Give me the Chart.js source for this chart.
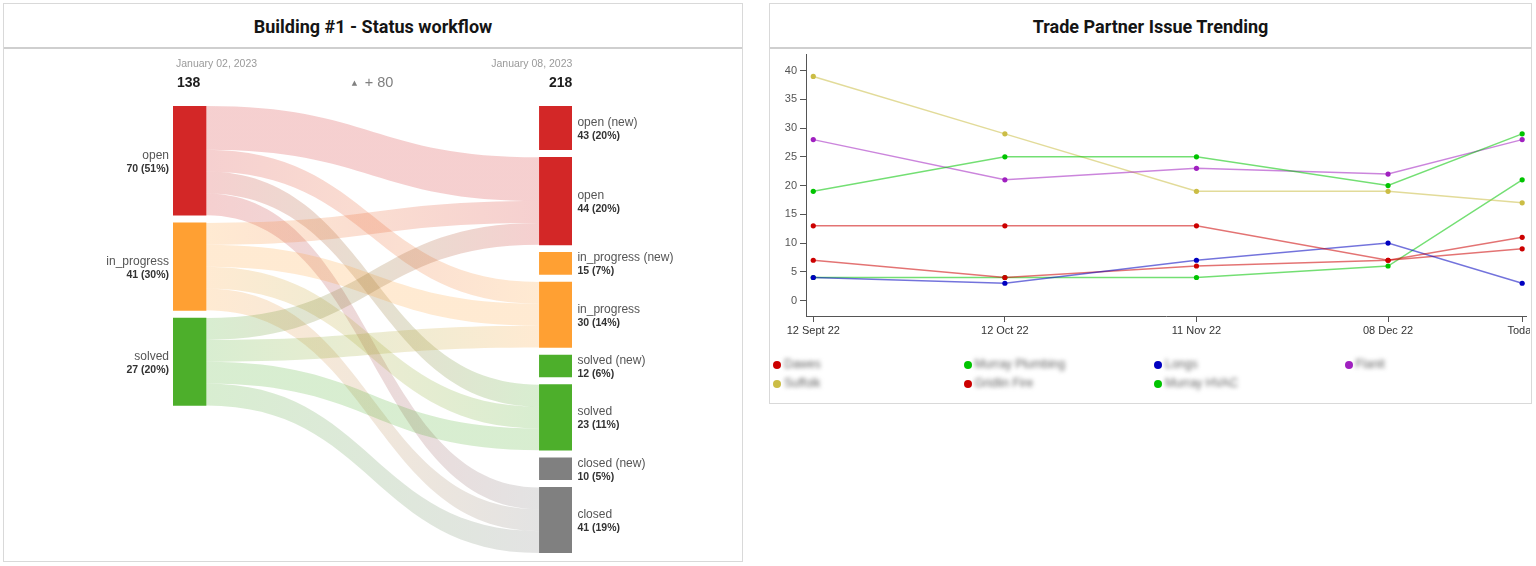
<!DOCTYPE html>
<html>
<head>
<meta charset="utf-8">
<script src="https://cdn.jsdelivr.net/npm/chart.js@4.4.0/dist/chart.umd.min.js"></script>
<style>
  body { margin: 0; width: 1536px; height: 566px; background: #fff; position: relative; overflow: hidden; font-family: "Liberation Sans", Arial, sans-serif; }
  .panel { position: absolute; border: 1px solid #d9d9d9; box-sizing: border-box; background: #fff; }
  .panel .title { position: absolute; left: 0; right: 0; top: 0; height: 43px; border-bottom: 2px solid #cfcfcf; text-align: center; font: bold 18px "Liberation Sans Narrow", "Roboto", sans-serif; line-height: 46px; color: #151515; }
  #leftPanel { left: 3px; top: 3px; width: 740px; height: 559px; }
  #rightPanel { left: 769px; top: 3px; width: 763px; height: 401px; }
  canvas { position: absolute; }
  #flowChart { left: 4px; top: 50px; }
  #trendChart { left: 770px; top: 50px; }
  .legend-item { position: absolute; height: 12px; font-size: 12px; color: #666; white-space: nowrap; }
  .legend-dot { position: absolute; left: 0; top: 2px; width: 8px; height: 8px; border-radius: 50%; }
  .legend-text { position: absolute; left: 11px; top: -2px; filter: blur(2px); }
</style>
</head>
<body>
<div class="panel" id="leftPanel"><div class="title">Building #1 - Status workflow</div></div>
<div class="panel" id="rightPanel"><div class="title">Trade Partner Issue Trending</div></div>
<canvas id="flowChart" width="736" height="510"></canvas>
<canvas id="trendChart" width="760" height="300"></canvas>
<div id="trendLegend"></div>

<script>
// ─── Status workflow (sankey) data ──────────────────────────────────────────

const startDate = 'January 02, 2023';
const endDate = 'January 08, 2023';
const startTotal = 138;
const endTotal = 218;

const leftLabels = ['open', 'in_progress', 'solved'];
const leftCounts = [70, 41, 27];
const leftPct = [51, 30, 20];
const leftColors = ['#d32727', '#ffa033', '#4daf2b'];

const rightLabels = ['open (new)', 'open', 'in_progress (new)', 'in_progress', 'solved (new)', 'solved', 'closed (new)', 'closed'];
const rightCounts = [43, 44, 15, 30, 12, 23, 10, 41];
const rightPct = [20, 20, 7, 14, 6, 11, 5, 19];
const rightColors = ['#d32727', '#d32727', '#ffa033', '#ffa033', '#4daf2b', '#4daf2b', '#808080', '#808080'];
const newWeight = [2, 0, 1, 0, 1, 0, 1, 0];

const linkFrom = [0, 0, 0, 0, 1, 1, 1, 1, 2, 2, 2, 2];
const linkTo = [1, 3, 5, 7, 1, 3, 5, 7, 1, 3, 5, 7];
const linkWeight = [2, 1, 1, 1, 1, 1, 1, 1, 1, 1, 1, 1];

// ─── Trade partner trending data ───────────────────────────────────────────

const trendLabels = ['12 Sept 22', '12 Oct 22', '11 Nov 22', '08 Dec 22', 'Today'];
const trendX = [0, 1, 2, 3, 3.7];
const yTicks = [0, 5, 10, 15, 20, 25, 30, 35, 40];
const partners = ['Dawes', 'Murray Plumbing', 'Longs', 'Flanit', 'Suffolk', 'Gridlin Fire', 'Murray HVAC'];
const partnerColors = ['#cc0000', '#00c400', '#0000c0', '#a020c0', '#cbbd45', '#cc0000', '#00c400'];
const dawes = [13, 13, 13, 7, 11];
const murrayPlumbing = [19, 25, 25, 20, 29];
const longs = [4, 3, 7, 10, 3];
const flanit = [28, 21, 23, 22, 28];
const suffolk = [39, 29, 19, 19, 17];
const gridlinFire = [7, 4, 6, 7, 9];
const murrayHvac = [4, 4, 4, 6, 21];
const partnerSeries = [dawes, murrayPlumbing, longs, flanit, suffolk, gridlinFire, murrayHvac];

// ─── Sankey layout ──────────────────────────────────────────────────────────

const NODE_W = 33;
const GAP = 0.35;

function rgba(hex, a) {
  const n = parseInt(hex.slice(1), 16);
  return `rgba(${n >> 16},${(n >> 8) & 255},${n & 255},${a})`;
}

function stackNodes(sizes) {
  let pos = 0;
  return sizes.map(s => { const top = pos; pos += s + GAP; return [top, top + s]; });
}

const leftSizes = leftLabels.map((_, i) =>
  linkWeight.reduce((a, w, k) => a + (linkFrom[k] === i ? w : 0), 0));
const rightSizes = rightLabels.map((_, j) =>
  newWeight[j] + linkWeight.reduce((a, w, k) => a + (linkTo[k] === j ? w : 0), 0));
const leftSpans = stackNodes(leftSizes);
const rightSpans = stackNodes(rightSizes);
const flowMax = rightSpans[rightSpans.length - 1][1];

const sankeyLinks = {
  id: 'sankeyLinks',
  beforeDatasetsDraw(chart) {
    const { ctx, scales: { x, y } } = chart;
    const xa = x.getPixelForValue(0) + NODE_W / 2;
    const xb = x.getPixelForValue(1) - NODE_W / 2;
    const xm = (xa + xb) / 2;
    const outPos = leftSpans.map(s => s[0]);
    const inPos = rightSpans.map(s => s[0]);
    ctx.save();
    linkWeight.forEach((w, k) => {
      const i = linkFrom[k], j = linkTo[k];
      const s0 = y.getPixelForValue(outPos[i]), s1 = y.getPixelForValue(outPos[i] + w);
      const t0 = y.getPixelForValue(inPos[j]), t1 = y.getPixelForValue(inPos[j] + w);
      outPos[i] += w;
      inPos[j] += w;
      const grad = ctx.createLinearGradient(xa, 0, xb, 0);
      grad.addColorStop(0, rgba(leftColors[i], 0.22));
      grad.addColorStop(1, rgba(rightColors[j], 0.22));
      ctx.beginPath();
      ctx.moveTo(xa, s0);
      ctx.bezierCurveTo(xm, s0, xm, t0, xb, t0);
      ctx.lineTo(xb, t1);
      ctx.bezierCurveTo(xm, t1, xm, s1, xa, s1);
      ctx.closePath();
      ctx.fillStyle = grad;
      ctx.fill();
    });
    ctx.restore();
  },
  afterDatasetsDraw(chart) {
    const { ctx, chartArea, scales: { x, y } } = chart;
    const lx = x.getPixelForValue(0), rx = x.getPixelForValue(1);
    ctx.save();
    const nodeLabel = (name, count, pct, px, span, align) => {
      const cy = (y.getPixelForValue(span[0]) + y.getPixelForValue(span[1])) / 2;
      ctx.textAlign = align;
      ctx.fillStyle = '#555';
      ctx.font = '12px "Liberation Sans", Arial, sans-serif';
      ctx.fillText(name, px, cy - 2);
      ctx.fillStyle = '#333';
      ctx.font = 'bold 10.5px "Liberation Sans", Arial, sans-serif';
      ctx.fillText(`${count} (${pct}%)`, px, cy + 11);
    };
    leftLabels.forEach((n, i) => nodeLabel(n, leftCounts[i], leftPct[i], lx - NODE_W / 2 - 4, leftSpans[i], 'right'));
    rightLabels.forEach((n, j) => nodeLabel(n, rightCounts[j], rightPct[j], rx + NODE_W / 2 + 5, rightSpans[j], 'left'));

    // column headers
    const top = chartArea.top;
    ctx.font = '10.5px "Liberation Sans Narrow", sans-serif';
    ctx.fillStyle = '#9a9a9a';
    ctx.textAlign = 'left';
    ctx.fillText(startDate, lx - NODE_W / 2 + 3, top - 39);
    ctx.textAlign = 'right';
    ctx.fillText(endDate, rx + NODE_W / 2, top - 39);
    ctx.font = 'bold 14px "Liberation Sans Narrow", sans-serif';
    ctx.fillStyle = '#1d1d1d';
    ctx.textAlign = 'left';
    ctx.fillText(String(startTotal), lx - NODE_W / 2 + 4, top - 19);
    ctx.textAlign = 'right';
    ctx.fillText(String(endTotal), rx + NODE_W / 2, top - 19);
    const mid = (lx + rx) / 2;
    const diff = endTotal - startTotal;
    ctx.fillStyle = '#808080';
    ctx.textAlign = 'left';
    ctx.font = '7px "DejaVu Sans", sans-serif';
    ctx.fillText(diff >= 0 ? '▲' : '▼', mid - 21, top - 21);
    ctx.font = '14.5px "Liberation Sans Narrow", sans-serif';
    ctx.fillText(`+ ${diff}`, mid - 8, top - 19);
    ctx.restore();
  },
};

new Chart(document.getElementById('flowChart'), {
  type: 'bar',
  data: {
    datasets: [{
      data: [
        ...leftSpans.map(s => ({ x: 0, y: s })),
        ...rightSpans.map(s => ({ x: 1, y: s })),
      ],
      backgroundColor: [...leftColors, ...rightColors],
      borderWidth: 0,
      barThickness: NODE_W,
    }],
  },
  options: {
    responsive: false,
    animation: false,
    events: [],
    layout: { padding: { left: 169, right: 168, top: 56, bottom: 7 } },
    plugins: { legend: { display: false }, tooltip: { enabled: false } },
    scales: {
      x: { type: 'linear', offset: false, min: -0.045, max: 1.044, display: false },
      y: { type: 'linear', min: 0, max: flowMax, reverse: true, display: false },
    },
  },
  plugins: [sankeyLinks],
});

// ─── Trade partner line chart ──────────────────────────────────────────────

new Chart(document.getElementById('trendChart'), {
  type: 'line',
  data: {
    datasets: partners.map((p, i) => ({
      label: p,
      data: partnerSeries[i].map((v, k) => ({ x: trendX[k], y: v })),
      borderColor: rgba(partnerColors[i], 0.55),
      backgroundColor: partnerColors[i],
      pointBackgroundColor: partnerColors[i],
      pointBorderWidth: 0,
      pointRadius: 2.6,
      borderWidth: 1.5,
      tension: 0,
      fill: false,
    })),
  },
  options: {
    responsive: false,
    animation: false,
    events: [],
    layout: { padding: { left: 0, right: 3, top: 3, bottom: 0 } },
    plugins: { legend: { display: false }, tooltip: { enabled: false } },
    scales: {
      x: {
        type: 'linear',
        min: -0.038,
        max: 3.72,
        afterBuildTicks: s => { s.ticks = trendX.map(v => ({ value: v })); },
        afterFit: s => { s.height = 34; s.paddingLeft = 0; s.paddingRight = 0; },
        ticks: {
          autoSkip: false,
          maxRotation: 0,
          padding: 2,
          color: '#333',
          font: { family: '"Liberation Sans Narrow", sans-serif', size: 11 },
          callback: v => trendLabels[trendX.indexOf(v)],
        },
        grid: { drawOnChartArea: false, drawTicks: true, tickLength: 6, color: '#555' },
        border: { display: true, color: '#555', width: 1 },
      },
      y: {
        min: -2.7,
        max: 42.9,
        afterBuildTicks: s => { s.ticks = yTicks.map(v => ({ value: v })); },
        afterFit: s => { s.width = 36; s.paddingTop = 0; s.paddingBottom = 0; },
        ticks: {
          padding: 3,
          color: '#555',
          font: { family: '"Liberation Sans", Arial, sans-serif', size: 11 },
        },
        grid: { drawOnChartArea: false, drawTicks: true, tickLength: 6, color: '#555' },
        border: { display: true, color: '#555', width: 1 },
      },
    },
  },
});

// ─── HTML legend (names blurred as in the source) ──────────────────────────

const legend = document.getElementById('trendLegend');
legend.innerHTML = partners.map((p, i) => {
  const left = 773 + (i % 4) * 190.5;
  const top = 359 + Math.floor(i / 4) * 19;
  return `<div class="legend-item" style="left:${left}px;top:${top}px;">
      <span class="legend-dot" style="background:${partnerColors[i]};"></span>
      <span class="legend-text">${p}</span>
    </div>`;
}).join('');
</script>
</body>
</html>
